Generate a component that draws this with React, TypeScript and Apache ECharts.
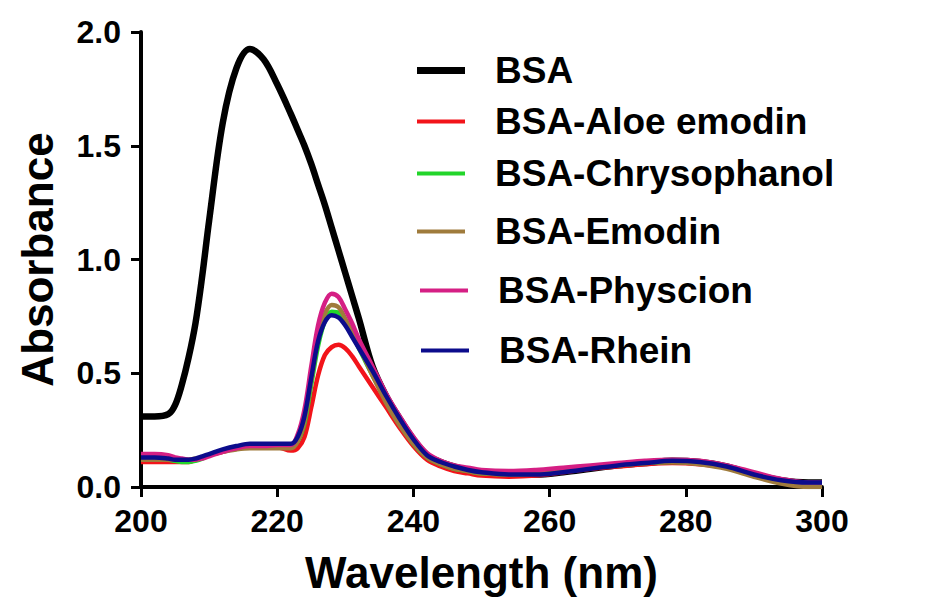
import React, { useEffect, useRef } from "react";
import * as echarts from "echarts";

// Wavelength grid (nm)
const wavelengths = [
  200, 202, 204, 205, 206, 207, 208, 209, 210, 212, 214, 216, 218, 220, 222,
  223, 224, 225, 226, 227, 228, 229, 230, 231, 232, 234, 236, 238, 240, 242,
  244, 246, 248, 250, 254, 258, 262, 266, 270, 274, 278, 282, 286, 290, 294,
  298, 300,
];

// Absorbance values
const bsa = [
  0.31, 0.31, 0.32, 0.36, 0.45, 0.57, 0.72, 0.93, 1.17, 1.6, 1.84, 1.925, 1.88,
  1.77, 1.64, 1.57, 1.5, 1.42, 1.33, 1.24, 1.14, 1.04, 0.94, 0.84, 0.74, 0.53,
  0.4, 0.3, 0.21, 0.14, 0.11, 0.09, 0.075, 0.065, 0.055, 0.055, 0.065, 0.08,
  0.095, 0.105, 0.115, 0.11, 0.09, 0.055, 0.03, 0.02, 0.02,
];
const aloeEmodin = [
  0.11, 0.11, 0.11, 0.11, 0.11, 0.11, 0.12, 0.13, 0.14, 0.155, 0.17, 0.175,
  0.175, 0.175, 0.16, 0.17, 0.22, 0.35, 0.49, 0.58, 0.615, 0.625, 0.61, 0.575,
  0.53, 0.44, 0.35, 0.26, 0.18, 0.12, 0.09, 0.07, 0.06, 0.05, 0.045, 0.05,
  0.065, 0.08, 0.09, 0.1, 0.105, 0.1, 0.085, 0.055, 0.03, 0.015, 0.015,
];
const chrysophanol = [
  0.125, 0.125, 0.12, 0.115, 0.11, 0.11, 0.115, 0.125, 0.14, 0.16, 0.175, 0.18,
  0.18, 0.18, 0.175, 0.2, 0.28, 0.45, 0.62, 0.73, 0.77, 0.765, 0.72, 0.67, 0.61,
  0.49, 0.38, 0.28, 0.19, 0.13, 0.1, 0.08, 0.07, 0.06, 0.055, 0.06, 0.07, 0.085,
  0.095, 0.105, 0.11, 0.105, 0.085, 0.05, 0.02, 0.005, 0.005,
];
const emodin = [
  0.12, 0.12, 0.12, 0.12, 0.12, 0.12, 0.125, 0.13, 0.14, 0.155, 0.165, 0.17,
  0.17, 0.17, 0.17, 0.2, 0.29, 0.47, 0.65, 0.76, 0.8, 0.79, 0.74, 0.68, 0.62,
  0.49, 0.37, 0.27, 0.19, 0.13, 0.1, 0.08, 0.07, 0.06, 0.055, 0.06, 0.07, 0.085,
  0.095, 0.105, 0.11, 0.1, 0.08, 0.045, 0.015, 0.0, 0.0,
];
const physcion = [
  0.145, 0.145, 0.14, 0.13, 0.125, 0.12, 0.12, 0.125, 0.135, 0.155, 0.17, 0.18,
  0.18, 0.185, 0.185, 0.23, 0.34, 0.53, 0.71, 0.81, 0.85, 0.835, 0.78, 0.72,
  0.65, 0.53, 0.41, 0.31, 0.22, 0.15, 0.115, 0.095, 0.085, 0.075, 0.07, 0.075,
  0.085, 0.095, 0.105, 0.115, 0.12, 0.115, 0.095, 0.065, 0.035, 0.02, 0.02,
];
const rhein = [
  0.13, 0.13, 0.125, 0.12, 0.12, 0.12, 0.125, 0.135, 0.145, 0.165, 0.18, 0.19,
  0.19, 0.19, 0.19, 0.22, 0.31, 0.48, 0.64, 0.725, 0.755, 0.745, 0.71, 0.66,
  0.61, 0.51, 0.4, 0.3, 0.21, 0.14, 0.11, 0.09, 0.075, 0.065, 0.055, 0.055,
  0.065, 0.08, 0.095, 0.105, 0.115, 0.11, 0.09, 0.055, 0.03, 0.02, 0.02,
];

const seriesNames = [
  "BSA",
  "BSA-Aloe emodin",
  "BSA-Chrysophanol",
  "BSA-Emodin",
  "BSA-Physcion",
  "BSA-Rhein",
];

// Styling / layout (not data)
const seriesColors = ["#000000", "#f2141a", "#22d52a", "#9f7b3c", "#d51f84", "#0c0c8c"];
const legendLefts = [417, 417, 417, 417, 420, 421];
const legendCenters = [72, 123, 175, 233, 292, 352];

export default function App() {
  const ref = useRef<HTMLDivElement>(null);

  useEffect(() => {
    document.body.style.margin = "0";
    const chart = echarts.init(ref.current!, null, { renderer: "svg" });
    const font = "'Liberation Sans', Arial, Helvetica, sans-serif";
    const allValues = [bsa, aloeEmodin, chrysophanol, emodin, physcion, rhein];

    const series = allValues.map((vals, i) => ({
      name: seriesNames[i],
      type: "line",
      data: wavelengths.map((w, j) => [w, vals[j]]),
      showSymbol: false,
      symbol: "none",
      smooth: 0.35,
      lineStyle: { color: seriesColors[i], width: i === 0 ? 6.5 : 4.5 },
      itemStyle: { color: seriesColors[i] },
      z: 2 + i,
    }));

    const legend = seriesNames.map((name, i) => ({
      data: [name],
      left: legendLefts[i],
      top: legendCenters[i] - 20,
      orient: "vertical",
      padding: 0,
      itemWidth: 48,
      itemHeight: i === 0 ? 7 : 4,
      icon: "rect",
      selectedMode: false,
      textStyle: {
        fontFamily: font,
        fontSize: 37,
        fontWeight: "bold",
        color: "#000",
        padding: [0, 0, 0, 25],
      },
    }));

    chart.setOption({
      animation: false,
      backgroundColor: "#ffffff",
      grid: { left: 141, right: 119, top: 32, bottom: 122 },
      legend,
      xAxis: {
        type: "value",
        min: 200,
        max: 300,
        interval: 20,
        name: "Wavelength (nm)",
        nameLocation: "middle",
        nameGap: 63,
        nameTextStyle: { fontFamily: font, fontSize: 44, fontWeight: "bold", color: "#000" },
        axisLine: { show: true, onZero: false, lineStyle: { color: "#000", width: 4 } },
        axisTick: { show: true, length: 10, lineStyle: { color: "#000", width: 3 } },
        axisLabel: { fontFamily: font, fontSize: 32, fontWeight: "bold", color: "#000", margin: 18 },
        splitLine: { show: false },
      },
      yAxis: {
        type: "value",
        min: 0,
        max: 2,
        interval: 0.5,
        name: "Absorbance",
        nameLocation: "middle",
        nameGap: 82,
        nameRotate: 90,
        nameTextStyle: { fontFamily: font, fontSize: 44, fontWeight: "bold", color: "#000" },
        axisLine: { show: true, lineStyle: { color: "#000", width: 4 } },
        axisTick: { show: true, length: 10, lineStyle: { color: "#000", width: 3 } },
        axisLabel: {
          fontFamily: font,
          fontSize: 32,
          fontWeight: "bold",
          color: "#000",
          margin: 20,
          formatter: (v: number) => v.toFixed(1),
        },
        splitLine: { show: false },
      },
      series,
    });

    return () => chart.dispose();
  }, []);

  return (
    <div
      ref={ref}
      style={{ position: "absolute", left: 0, top: 0, width: 941, height: 609 }}
    />
  );
}
